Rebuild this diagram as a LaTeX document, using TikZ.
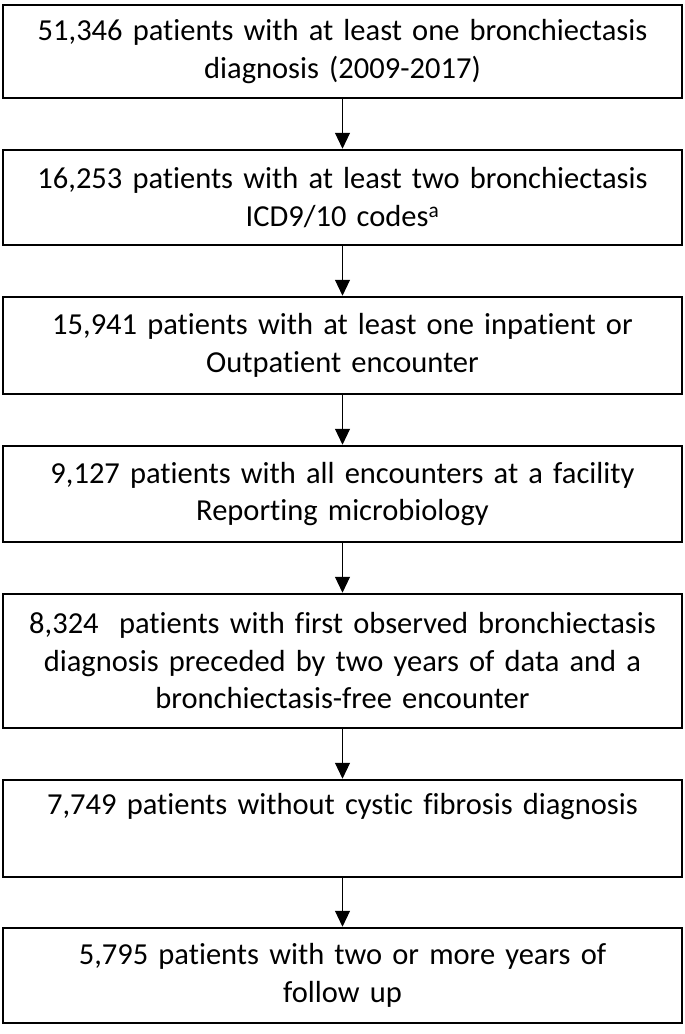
\documentclass[tikz,border=0pt]{standalone}
\usepackage{fontspec}
\setmainfont{Carlito}[Ligatures={NoCommon,NoContextual},RawFeature={-liga;-clig;-calt;-dlig}]
\usetikzlibrary{arrows.meta}
\begin{document}
\begin{tikzpicture}[x=1pt,y=-1pt,
  box/.style={draw=black, line width=2.5pt, rectangle, minimum width=679pt,
    text width=670pt, align=center, inner sep=0pt,
    font={\fontsize{30.5}{37.5}\selectfont}},
  arr/.style={draw=black, line width=1pt, -{Triangle[length=16pt,width=15pt]}}]
\useasboundingbox[fill=white] (0,0) rectangle (685,1034);
\node[box, minimum height=93pt] (b1) at (342.5,51.5) {51,346 patients with at least one bronchiectasis\\diagnosis (2009-2017)};
\node[box, minimum height=95pt] (b2) at (342.5,197.5) {16,253 patients with at least two bronchiectasis\\ICD9/10 codes\textsuperscript{a}};
\node[box, minimum height=97pt] (b3) at (342.5,345.5) {15,941 patients with at least one inpatient or\\Outpatient encounter};
\node[box, minimum height=96pt] (b4) at (342.5,494) {9,127 patients with all encounters at a facility\\Reporting microbiology};
\node[box, minimum height=134pt] (b5) at (342.5,661) {8,324\ \ patients with first observed bronchiectasis\\diagnosis preceded by two years of data and a\\bronchiectasis-free encounter};
\node[box, minimum height=97pt] (b6) at (342.5,828.5) {7,749 patients without cystic fibrosis diagnosis\\\strut};
\node[box, minimum height=95pt] (b7) at (342.5,975.5) {5,795 patients with two or more years of\\follow up};
\draw[arr] (b1) -- (b2);
\draw[arr] (b2) -- (b3);
\draw[arr] (b3) -- (b4);
\draw[arr] (b4) -- (b5);
\draw[arr] (b5) -- (b6);
\draw[arr] (b6) -- (b7);
\end{tikzpicture}
\end{document}
